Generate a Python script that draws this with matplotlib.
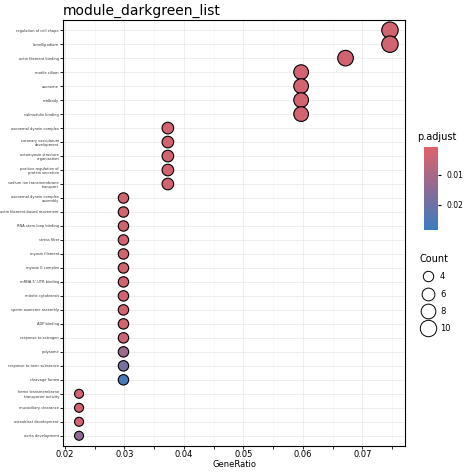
import numpy as np
import matplotlib.pyplot as plt
from matplotlib.colors import LinearSegmentedColormap, Normalize
from matplotlib.lines import Line2D

terms = ['regulation of cell shape', 'lamellipodium', 'actin filament binding', 'motile cilium',
         'axoneme', 'midbody', 'calmodulin binding', 'axonemal dynein complex',
         'coronary vasculature\ndevelopment', 'actomyosin structure\norganization',
         'positive regulation of\nprotein secretion', 'sodium ion transmembrane\ntransport',
         'axonemal dynein complex\nassembly', 'actin filament-based movement', 'RNA stem-loop binding',
         'stress fiber', 'myosin filament', 'myosin II complex', "mRNA 5'-UTR binding",
         'mitotic cytokinesis', 'sperm axoneme assembly', 'ADP binding', 'response to estrogen',
         'polysome', 'response to toxic substance', 'cleavage furrow',
         'heme transmembrane\ntransporter activity', 'mucociliary clearance',
         'osteoblast development', 'aorta development']
counts = [10, 10, 9, 8, 8, 8, 8, 5, 5, 5, 5, 5, 4, 4, 4, 4, 4, 4, 4, 4, 4, 4, 4, 4, 4, 4, 3, 3, 3, 3]
padj = [0.003, 0.003, 0.003, 0.003, 0.003, 0.003, 0.003, 0.003, 0.003, 0.003, 0.003, 0.003,
        0.003, 0.003, 0.003, 0.003, 0.003, 0.003, 0.003, 0.003, 0.003, 0.003, 0.004,
        0.012, 0.018, 0.026, 0.003, 0.003, 0.003, 0.014]
total = 134
ratio = np.array(counts) / total

cmap = LinearSegmentedColormap.from_list('pa', ['#E0626A', '#8E6B95', '#3A7DBF'])
norm = Normalize(0.0007, 0.0283)

fig = plt.figure(figsize=(4.74, 4.74), dpi=100)
ax = fig.add_axes([0.133, 0.06, 0.722, 0.897])
y = np.arange(len(terms))[::-1]
sfac = 14
ax.scatter(ratio, y, s=np.array(counts) * sfac, c=padj, cmap=cmap, norm=norm,
           edgecolors='black', linewidths=0.8, zorder=3)
ax.set_yticks(y)
ax.set_yticklabels(terms, fontsize=2.6, color='#333333')
ax.set_xticks([0.02, 0.03, 0.04, 0.05, 0.06, 0.07])
ax.set_xticklabels(['0.02', '0.03', '0.04', '0.05', '0.06', '0.07'], fontsize=6)
ax.set_xlim(0.0197, 0.0772)
ax.set_ylim(-0.7, len(terms) - 0.3)
ax.set_xlabel('GeneRatio', fontsize=6, labelpad=1)
ax.grid(True, color='#EBEBEB', linewidth=0.6)
ax.set_xticks(np.arange(0.025, 0.08, 0.01), minor=True)
ax.grid(True, which='minor', axis='x', color='#F3F3F3', linewidth=0.4)
ax.set_axisbelow(True)
ax.tick_params(length=2, width=0.6, pad=1)
for s in ax.spines.values():
    s.set_linewidth(0.8)
ax.set_title('module_darkgreen_list', fontsize=10, loc='left', pad=4)

cax = fig.add_axes([0.895, 0.515, 0.03, 0.175])
cb = fig.colorbar(plt.cm.ScalarMappable(norm=norm, cmap=cmap), cax=cax)
cb.set_ticks([0.01, 0.02])
cb.ax.invert_yaxis()
cb.ax.tick_params(labelsize=5.5, length=2)
cb.outline.set_visible(False)
fig.text(0.88, 0.705, 'p.adjust', fontsize=7)

handles = [Line2D([], [], marker='o', linestyle='', markersize=np.sqrt(c * sfac),
                  markerfacecolor='white', markeredgecolor='black', markeredgewidth=0.7)
           for c in [4, 6, 8, 10]]
leg = fig.legend(handles, ['4', '6', '8', '10'], title='Count', loc='upper left',
                 bbox_to_anchor=(0.87, 0.48), frameon=False, fontsize=6, title_fontsize=7,
                 labelspacing=1.0, handletextpad=0.4, alignment='left')
fig.savefig('out.png', dpi=100)
